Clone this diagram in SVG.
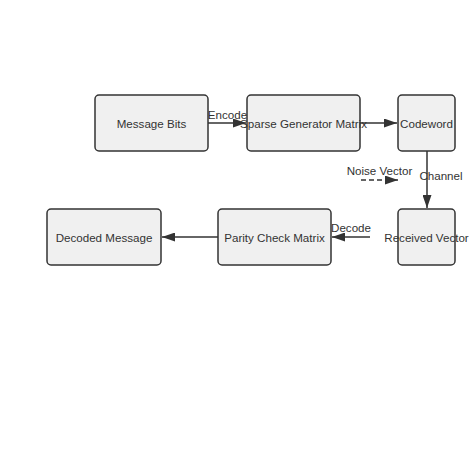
<svg xmlns="http://www.w3.org/2000/svg" width="474" height="474" viewBox="0 0 474 474">
<defs>
<style>
.n rect{fill:#f0f0f0;stroke:#333;stroke-width:1.5}
text{font-family:"Liberation Sans",Arial,sans-serif;font-size:11.6px;fill:#333}
.c{text-anchor:middle}
.e line{stroke:#333;stroke-width:1.5}
</style>
<marker id="b" viewBox="0 0 10 10" refX="10" refY="5" markerWidth="13" markerHeight="9" markerUnits="userSpaceOnUse" orient="auto" preserveAspectRatio="none"><path d="M0,0L10,5L0,10z" fill="#333"/></marker>
</defs>
<rect width="474" height="474" fill="#fff"/>
<g class="e">
<line x1="208" y1="123" x2="246" y2="123" marker-end="url(#b)"/>
<line x1="360" y1="123" x2="397" y2="123" marker-end="url(#b)"/>
<line x1="427" y1="151" x2="427" y2="208" marker-end="url(#b)"/>
<line x1="361" y1="180" x2="398" y2="180" stroke-dasharray="5,3" marker-end="url(#b)"/>
<line x1="370" y1="237" x2="332" y2="237" marker-end="url(#b)"/>
<line x1="218" y1="237" x2="162" y2="237" marker-end="url(#b)"/>
</g>
<g id="message-bits" class="n"><rect x="95" y="95" width="113" height="56" rx="4"/><text class="c" x="151.5" y="128">Message Bits</text></g>
<g id="sparse-generator" class="n"><rect x="247" y="95" width="113" height="56" rx="4"/><text class="c" x="303.5" y="128">Sparse Generator Matrix</text></g>
<g id="codeword" class="n"><rect x="398" y="95" width="57" height="56" rx="4"/><text class="c" x="426.5" y="128">Codeword</text></g>
<g id="received-vector" class="n"><rect x="398" y="209" width="57" height="56" rx="4"/><text class="c" x="426.5" y="242">Received Vector</text></g>
<g id="parity-check" class="n"><rect x="218" y="209" width="113" height="56" rx="4"/><text class="c" x="274.5" y="242">Parity Check Matrix</text></g>
<g id="decoded-message" class="n"><rect x="47" y="209" width="114" height="56" rx="4"/><text class="c" x="104" y="242">Decoded Message</text></g>
<g id="labels">
<text class="c" x="227.5" y="119">Encode</text>
<text class="c" x="441" y="180">Channel</text>
<text class="c" x="379.5" y="175">Noise Vector</text>
<text class="c" x="351" y="232">Decode</text>
</g>
</svg>
